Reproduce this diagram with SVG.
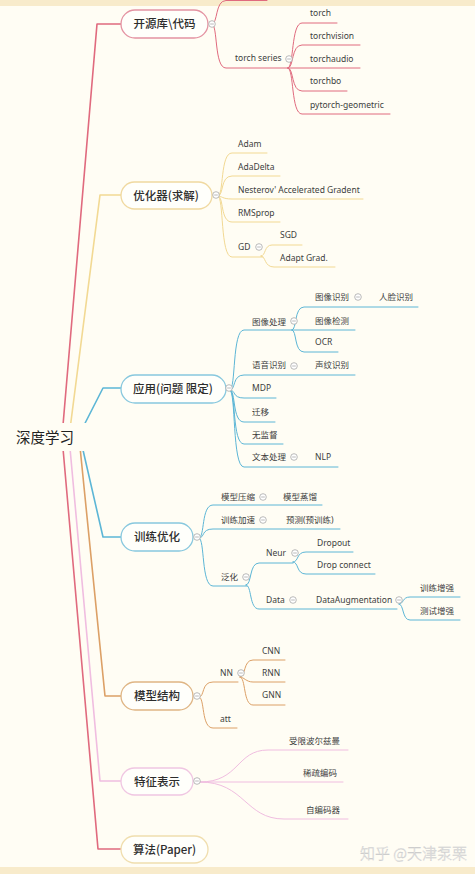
<svg xmlns="http://www.w3.org/2000/svg" width="475" height="874" viewBox="0 0 475 874">
<defs>
<style>
.bg{fill:#fffdf4}
.band{fill:#f8ebcb}
.ln{fill:none;stroke-linecap:round;stroke-linejoin:round}
.main{stroke-width:1.6}
.sub{stroke-width:1}
.red{stroke:#e06a7e}
.yel{stroke:#f2d993}
.blu{stroke:#5cb6d6}
.org{stroke:#dca066}
.pnk{stroke:#f0bde0}
.box{fill:#fffffb;stroke-width:1.3}
.nt{font-family:"Noto Sans CJK SC","Noto Sans",sans-serif;font-size:11.5px;font-weight:500;fill:#2d2d2d;text-anchor:middle}
.ct{font-family:"Noto Sans","Noto Sans CJK SC",sans-serif;font-size:8.5px;fill:#3d3d3d}
.end{text-anchor:end}
.root{font-family:"Noto Sans CJK SC","Noto Sans",sans-serif;font-size:14.5px;fill:#222}
.wm{font-family:"Noto Sans CJK SC","Noto Sans",sans-serif;font-size:15px;font-weight:300;fill:#f4f4f4;stroke:#c6c6c6;stroke-width:0.35}
</style>
<g id="minus">
<circle cx="0" cy="0" r="3.3" fill="#ffffff" stroke="#a8a8a8" stroke-width="0.8"/>
<line x1="-1.8" y1="0" x2="1.8" y2="0" stroke="#a8a8a8" stroke-width="0.8"/>
</g>
</defs>
<rect class="bg" x="0" y="0" width="475" height="874"/>
<rect class="band" x="0" y="0" width="475" height="6"/>
<rect class="band" x="0" y="867" width="475" height="7"/>

<g id="connectors">
<path class="ln main red" d="M62,437 L97,24 H121"/>
<path class="ln main yel" d="M69,437 L100,195 H121"/>
<path class="ln main blu" d="M78,437 L103,388 H121"/>
<path class="ln main blu" d="M80,437 L103,537 H121"/>
<path class="ln main org" d="M79,437 L105,696 H121"/>
<path class="ln main pnk" d="M69,437 L100,781 H121"/>
<path class="ln main red" d="M62,437 L98,849 H121"/>

<path class="ln sub red" d="M212,24 C218,24 215,0.5 226,0.5 H267"/>
<path class="ln sub red" d="M212,24 C218,24 214,68 226,68 H288"/>
<path class="ln sub red" d="M288,68 C294,68 291,23 302,23 H337"/>
<path class="ln sub red" d="M288,68 C294,68 291,45 302,45 H360"/>
<path class="ln sub red" d="M288,68 H360"/>
<path class="ln sub red" d="M288,68 C294,68 291,91 302,91 H347"/>
<path class="ln sub red" d="M288,68 C294,68 291,114 302,114 H390"/>

<path class="ln sub yel" d="M218,196 C224,196 220,153 232,153 H267"/>
<path class="ln sub yel" d="M218,196 C224,196 220,176 232,176 H280"/>
<path class="ln sub yel" d="M218,196 C222,196 222,199 232,199 H363"/>
<path class="ln sub yel" d="M218,196 C224,196 220,222 232,222 H280"/>
<path class="ln sub yel" d="M218,196 C224,196 220,257 232,257 H263"/>
<path class="ln sub yel" d="M261,256 C266,256 264,245 272,245 H302"/>
<path class="ln sub yel" d="M261,256 C266,256 264,267 274,267 H335"/>

<path class="ln sub blu" d="M230,390 C236,390 232,330 244,330 H292"/>
<path class="ln sub blu" d="M292,330 C297,330 294,307 304,307 H418"/>
<path class="ln sub blu" d="M292,330 H355"/>
<path class="ln sub blu" d="M292,330 C297,330 294,352 304,352 H338"/>
<path class="ln sub blu" d="M230,390 C236,390 232,375 244,375 H355"/>
<path class="ln sub blu" d="M230,390 C236,390 232,398 244,398 H276"/>
<path class="ln sub blu" d="M230,390 C236,390 232,422 244,422 H275"/>
<path class="ln sub blu" d="M230,390 C236,390 232,444 244,444 H283"/>
<path class="ln sub blu" d="M230,390 C236,390 232,467 244,467 H338"/>

<path class="ln sub blu" d="M199,538 C205,538 201,505 213,505 H322"/>
<path class="ln sub blu" d="M199,538 C205,538 201,529 213,529 H340"/>
<path class="ln sub blu" d="M199,538 C205,538 201,586 213,586 H247"/>
<path class="ln sub blu" d="M246,585 C252,585 249,563 259,563 H293"/>
<path class="ln sub blu" d="M246,585 C252,585 249,609 259,609 H397"/>
<path class="ln sub blu" d="M293,562 C299,562 296,552 306,552 H353"/>
<path class="ln sub blu" d="M293,562 C299,562 296,574 306,574 H375"/>
<path class="ln sub blu" d="M399,604 C404,604 402,597 410,597 H460"/>
<path class="ln sub blu" d="M399,604 C404,604 402,620 410,620 H460"/>

<path class="ln sub org" d="M199,697 C205,697 201,682 213,682 H238"/>
<path class="ln sub org" d="M199,697 C205,697 201,728 213,728 H237"/>
<path class="ln sub org" d="M240,677 C246,677 243,660 253,660 H285"/>
<path class="ln sub org" d="M240,677 C244,677 246,682 253,682 H285"/>
<path class="ln sub org" d="M240,677 C246,677 243,705 253,705 H285"/>

<path class="ln sub pnk" d="M200,782 C240,782 236,750 268,750 H348"/>
<path class="ln sub pnk" d="M200,782 H343"/>
<path class="ln sub pnk" d="M200,782 C245,782 245,819 284,819 H348"/>
</g>

<rect class="bg" x="4" y="423" width="86" height="28"/>

<g id="root">
<text class="root" x="16" y="443">深度学习</text>
</g>

<g id="n-kaiyuan">
<rect class="box" x="121" y="10" width="87" height="28" rx="14" stroke="#e493a2"/>
<text class="nt" x="164.5" y="28">开源库\代码</text>
<use href="#minus" x="212" y="24"/>
</g>
<g id="n-torch-series">
<text class="ct" x="235" y="61">torch series</text>
<use href="#minus" x="289" y="59"/>
</g>
<g id="n-torch"><text class="ct" x="310" y="16">torch</text></g>
<g id="n-torchvision"><text class="ct" x="310" y="39">torchvision</text></g>
<g id="n-torchaudio"><text class="ct" x="310" y="62">torchaudio</text></g>
<g id="n-torchbo"><text class="ct" x="310" y="84">torchbo</text></g>
<g id="n-pyg"><text class="ct" x="310" y="108">pytorch-geometric</text></g>

<g id="n-youhua">
<rect class="box" x="121" y="182" width="91" height="27" rx="13.5" stroke="#f0d9a0"/>
<text class="nt" x="166" y="199.5">优化器(求解)</text>
<use href="#minus" x="216" y="195"/>
</g>
<g id="n-adam"><text class="ct" x="238" y="147">Adam</text></g>
<g id="n-adadelta"><text class="ct" x="238" y="170">AdaDelta</text></g>
<g id="n-nesterov"><text class="ct" x="238" y="193">Nesterov' Accelerated Gradent</text></g>
<g id="n-rmsprop"><text class="ct" x="238" y="216">RMSprop</text></g>
<g id="n-gd">
<text class="ct" x="238" y="250">GD</text>
<use href="#minus" x="259" y="247"/>
</g>
<g id="n-sgd"><text class="ct" x="280" y="238">SGD</text></g>
<g id="n-adapt"><text class="ct" x="280" y="261">Adapt Grad.</text></g>

<g id="n-yingyong">
<rect class="box" x="121" y="375" width="105" height="28" rx="14" stroke="#88c8de"/>
<text class="nt" x="173" y="393">应用(问题 限定)</text>
<use href="#minus" x="229" y="388"/>
</g>
<g id="n-tuxiang">
<text class="ct" x="252" y="325">图像处理</text>
<use href="#minus" x="294" y="321"/>
</g>
<g id="n-tuxiangshibie">
<text class="ct" x="315" y="300">图像识别</text>
<use href="#minus" x="358" y="297"/>
</g>
<g id="n-renlian"><text class="ct" x="379" y="300">人脸识别</text></g>
<g id="n-jiance"><text class="ct" x="315" y="324">图像检测</text></g>
<g id="n-ocr"><text class="ct" x="315" y="345">OCR</text></g>
<g id="n-yuyin">
<text class="ct" x="252" y="368">语音识别</text>
<use href="#minus" x="294" y="366"/>
</g>
<g id="n-shengwen"><text class="ct" x="315" y="368">声纹识别</text></g>
<g id="n-mdp"><text class="ct" x="252" y="391">MDP</text></g>
<g id="n-qianyi"><text class="ct" x="252" y="415">迁移</text></g>
<g id="n-wujiandu"><text class="ct" x="252" y="438">无监督</text></g>
<g id="n-wenben">
<text class="ct" x="252" y="460">文本处理</text>
<use href="#minus" x="294" y="457"/>
</g>
<g id="n-nlp"><text class="ct" x="315" y="460">NLP</text></g>

<g id="n-xunlian">
<rect class="box" x="121" y="523" width="72" height="28" rx="14" stroke="#88c8de"/>
<text class="nt" x="157" y="541">训练优化</text>
<use href="#minus" x="197" y="537"/>
</g>
<g id="n-yasuo">
<text class="ct" x="221" y="500">模型压缩</text>
<use href="#minus" x="263" y="497"/>
</g>
<g id="n-zhengliu"><text class="ct" x="283" y="500">模型蒸馏</text></g>
<g id="n-jiasu">
<text class="ct" x="221" y="523">训练加速</text>
<use href="#minus" x="263" y="520"/>
</g>
<g id="n-yuce"><text class="ct" x="286" y="523">预测(预训练)</text></g>
<g id="n-fanhua">
<text class="ct" x="221" y="580">泛化</text>
<use href="#minus" x="246" y="577"/>
</g>
<g id="n-neur">
<text class="ct" x="266" y="556">Neur</text>
<use href="#minus" x="295" y="553"/>
</g>
<g id="n-dropout"><text class="ct" x="317" y="546">Dropout</text></g>
<g id="n-dropconnect"><text class="ct" x="317" y="568">Drop connect</text></g>
<g id="n-data">
<text class="ct" x="266" y="603">Data</text>
<use href="#minus" x="293" y="600"/>
</g>
<g id="n-dataaug">
<text class="ct" x="316" y="603">DataAugmentation</text>
<use href="#minus" x="399" y="600"/>
</g>
<g id="n-xunlianzq"><text class="ct" x="420" y="591">训练增强</text></g>
<g id="n-ceshizq"><text class="ct" x="420" y="614">测试增强</text></g>

<g id="n-moxing">
<rect class="box" x="121" y="682" width="72" height="28" rx="14" stroke="#dfb584"/>
<text class="nt" x="157" y="700">模型结构</text>
<use href="#minus" x="197" y="696"/>
</g>
<g id="n-nn">
<text class="ct" x="220" y="676">NN</text>
<use href="#minus" x="241" y="673"/>
</g>
<g id="n-cnn"><text class="ct" x="262" y="654">CNN</text></g>
<g id="n-rnn"><text class="ct" x="262" y="676">RNN</text></g>
<g id="n-gnn"><text class="ct" x="262" y="698">GNN</text></g>
<g id="n-att"><text class="ct" x="220" y="722">att</text></g>

<g id="n-tezheng">
<rect class="box" x="121" y="768" width="72" height="27" rx="13.5" stroke="#f0c6e2"/>
<text class="nt" x="157" y="785.5">特征表示</text>
<use href="#minus" x="197" y="781"/>
</g>
<g id="n-rbm"><text class="ct end" x="340" y="744">受限波尔兹曼</text></g>
<g id="n-xishu"><text class="ct end" x="337" y="776">稀疏编码</text></g>
<g id="n-zibianma"><text class="ct end" x="340" y="813">自编码器</text></g>

<g id="n-suanfa">
<rect class="box" x="121" y="836" width="87" height="27" rx="13.5" stroke="#f0deae"/>
<text class="nt" x="164.5" y="853.5">算法(Paper)</text>
</g>

<text class="wm" x="360" y="859">知乎 @天津泵栗</text>
</svg>
